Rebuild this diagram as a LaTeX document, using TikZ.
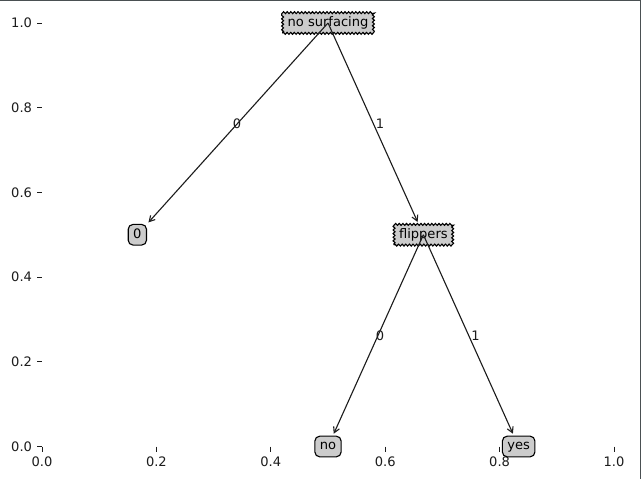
\documentclass[tikz,border=0pt]{standalone}
\usepackage{fontspec}
\setmainfont{DejaVu Sans}
\usetikzlibrary{arrows.meta,calc,decorations.pathmorphing}
\definecolor{ink}{HTML}{1C1C1C}
\definecolor{boxfill}{HTML}{CCCCCC}
\definecolor{framecol}{HTML}{4A5052}

\begin{document}
\begin{tikzpicture}[>={Straight Barb[length=4pt,width=4.5pt]}, x=411.84pt, y=304.92pt, font=\fontsize{9.4}{11}\selectfont]
 \tikzstyle{decision}=[rectangle,draw=black,line width=0.8pt,fill=boxfill,decorate,decoration={zigzag,segment length=2.6pt,amplitude=0.7pt},inner xsep=3.6pt,inner ysep=3pt,text height=6.9pt,text depth=2pt]
 \tikzstyle{leaf}=[rectangle,rounded corners=3.5pt,draw=black,line width=0.8pt,fill=boxfill,inner xsep=3.6pt,inner ysep=3pt,text height=6.9pt,text depth=2pt]
 \tikzstyle{edge}=[->,ink,line width=0.8pt,shorten >=1.5pt]
 \tikzstyle{elbl}=[anchor=base west,inner sep=0pt,text=ink]
 \tikzstyle{ticklbl}=[inner sep=0pt,text=ink]
 \useasboundingbox (-0.07343,-0.07674) rectangle (1.04720,1.05431);
 % window edge
 \coordinate (tl) at (-0.07343,1.05431);
 \coordinate (tr) at (1.04720,1.05431);
 \coordinate (br) at (1.04720,-0.07674);
 \draw[framecol,line width=1pt] ([yshift=-0.5pt]tl) -- ([xshift=-0.5pt,yshift=-0.5pt]tr) -- ([xshift=-0.5pt]br);
 % axis ticks
 \foreach \v/\n in {0.0/0,0.2/2,0.4/4,0.6/6,0.8/8,1.0/10} {
  \draw[ink,line width=0.7pt] (0,\v) -- ++(-3.6pt,0);
  \node[ticklbl,anchor=east] (yt\n) at ([xshift=-7pt]0,\v) {\v};
  \draw[ink,line width=0.7pt] (\v,0) -- ++(0,-3.6pt);
  \node[ticklbl,anchor=north] (xt\n) at ([yshift=-7pt]\v,0) {\v};
 }
 \node[decision] (root) at (0.5,1) {no surfacing};
 \node[leaf] (zero) at (0.1667,0.5) {0};
 \node[decision] (flip) at (0.6667,0.5) {flippers};
 \node[leaf] (no) at (0.5,0) {no};
 \node[leaf] (yes) at (0.8333,0) {yes};
 \draw[edge] (root.center) -- (zero);
 \draw[edge] (root.center) -- (flip);
 \draw[edge] (flip.center) -- (no);
 \draw[edge] (flip.center) -- (yes);
 \node[elbl] (l1) at ($(root)!0.5!(zero)$) {0};
 \node[elbl] (l2) at ($(root)!0.5!(flip)$) {1};
 \node[elbl] (l3) at ($(flip)!0.5!(no)$) {0};
 \node[elbl] (l4) at ($(flip)!0.5!(yes)$) {1};
\end{tikzpicture}
\end{document}
